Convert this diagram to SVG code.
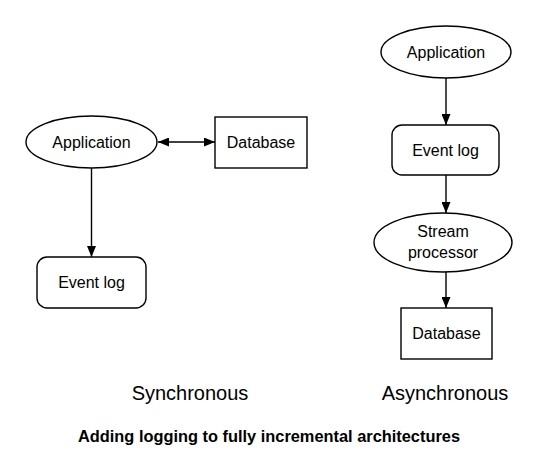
<svg xmlns="http://www.w3.org/2000/svg" width="552" height="474" viewBox="0 0 552 474">
<defs>
<style>
.shape{fill:#fff;stroke:#000;stroke-width:1.4}
.lbl{font-family:"Liberation Sans",Arial,sans-serif;font-size:16px;fill:#000;text-anchor:middle}
.title{font-family:"Liberation Sans",Arial,sans-serif;font-size:20px;fill:#000;text-anchor:middle}
.cap{font-family:"Liberation Sans",Arial,sans-serif;font-size:17px;font-weight:bold;fill:#000}
.conn{stroke:#000;stroke-width:1.4;fill:none}
</style>
<marker id="ah" viewBox="0 0 11 9" refX="11" refY="4.5" markerWidth="11" markerHeight="9" markerUnits="userSpaceOnUse" orient="auto-start-reverse">
<path d="M0,0 L11,4.5 L0,9 Z" fill="#000"/>
</marker>
</defs>
<rect width="552" height="474" fill="#fff"/>
<g id="connectors">
<line class="conn" x1="158" y1="142" x2="215" y2="142" marker-start="url(#ah)" marker-end="url(#ah)"/>
<line class="conn" x1="91.5" y1="168" x2="91.5" y2="257" marker-end="url(#ah)"/>
<line class="conn" x1="446" y1="78" x2="446" y2="125" marker-end="url(#ah)"/>
<line class="conn" x1="446" y1="175" x2="446" y2="213" marker-end="url(#ah)"/>
<line class="conn" x1="446" y1="272" x2="446" y2="308" marker-end="url(#ah)"/>
</g>
<g id="sync-application">
<ellipse class="shape" cx="91.5" cy="142" rx="65.5" ry="26"/>
<text class="lbl" x="91.5" y="147.5">Application</text>
</g>
<g id="sync-database">
<rect class="shape" x="215" y="117" width="92" height="51"/>
<text class="lbl" x="261" y="147.5">Database</text>
</g>
<g id="sync-eventlog">
<rect class="shape" x="37" y="257" width="109" height="51" rx="10"/>
<text class="lbl" x="91.5" y="288">Event log</text>
</g>
<g id="async-application">
<ellipse class="shape" cx="446" cy="52" rx="65" ry="26"/>
<text class="lbl" x="446" y="57.5">Application</text>
</g>
<g id="async-eventlog">
<rect class="shape" x="392" y="125" width="107" height="50" rx="10"/>
<text class="lbl" x="445.5" y="155.5">Event log</text>
</g>
<g id="async-streamprocessor">
<ellipse class="shape" cx="443" cy="242.5" rx="69" ry="29.5"/>
<text class="lbl" x="443" y="237">Stream</text>
<text class="lbl" x="443" y="258">processor</text>
</g>
<g id="async-database">
<rect class="shape" x="401" y="308" width="91" height="51"/>
<text class="lbl" x="446.5" y="339">Database</text>
</g>
<text class="title" x="190" y="400">Synchronous</text>
<text class="title" x="445" y="400">Asynchronous</text>
<text class="cap" x="78" y="442" textLength="382" lengthAdjust="spacingAndGlyphs">Adding logging to fully incremental architectures</text>
</svg>
